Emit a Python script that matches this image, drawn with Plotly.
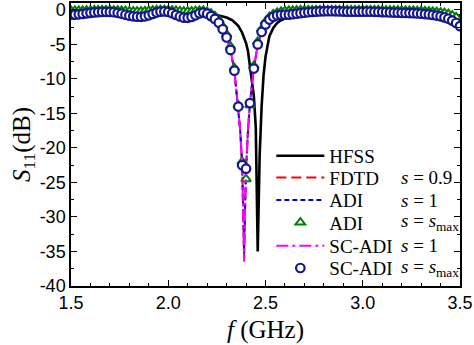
import plotly.graph_objects as go

# ---------------- data ----------------
freq_coarse = [
    1.50, 1.52, 1.54, 1.56, 1.58, 1.60, 1.62, 1.64, 1.66, 1.68,
    1.70, 1.72, 1.74, 1.76, 1.78, 1.80, 1.82, 1.84, 1.86, 1.88,
    1.90, 1.92, 1.94, 1.96, 1.98, 2.00, 2.02, 2.04, 2.06, 2.08,
    2.10, 2.12, 2.14, 2.16, 2.18, 2.20, 2.22, 2.24, 2.26, 2.28,
    2.30, 2.32, 2.34, 2.36, 2.38, 2.40, 2.42, 2.44, 2.46, 2.48,
    2.50, 2.52, 2.54, 2.56, 2.58, 2.60, 2.62, 2.64, 2.66, 2.68,
    2.70, 2.72, 2.74, 2.76, 2.78, 2.80, 2.82, 2.84, 2.86, 2.88,
    2.90, 2.92, 2.94, 2.96, 2.98, 3.00, 3.02, 3.04, 3.06, 3.08,
    3.10, 3.12, 3.14, 3.16, 3.18, 3.20, 3.22, 3.24, 3.26, 3.28,
    3.30, 3.32, 3.34, 3.36, 3.38, 3.40, 3.42, 3.44, 3.46, 3.48,
    3.50,
]

s11_sc_adi_smax = [
    -0.70, -0.68, -0.64, -0.58, -0.50, -0.43, -0.37, -0.32, -0.29, -0.28,
    -0.29, -0.34, -0.42, -0.55, -0.70, -0.83, -0.93, -0.99, -1.00, -0.93,
    -0.78, -0.58, -0.38, -0.25, -0.22, -0.30, -0.48, -0.72, -0.95, -1.12,
    -1.15, -1.02, -0.78, -0.50, -0.38, -0.55, -0.90, -1.30, -1.85, -2.80,
    -4.00, -5.80, -8.80, -14.0, -22.5, -23.0, -13.5, -8.50, -5.00, -3.20,
    -2.10, -1.40, -1.00, -0.80, -0.72, -0.70, -0.68, -0.62, -0.55, -0.47,
    -0.40, -0.34, -0.29, -0.25, -0.22, -0.20, -0.19, -0.19, -0.20, -0.22,
    -0.24, -0.26, -0.27, -0.27, -0.26, -0.25, -0.25, -0.26, -0.28, -0.30,
    -0.32, -0.34, -0.36, -0.38, -0.40, -0.42, -0.44, -0.46, -0.48, -0.51,
    -0.55, -0.60, -0.66, -0.73, -0.82, -0.93, -1.08, -1.28, -1.55, -1.90,
    -2.35,
]

s11_adi_smax = [
    -0.12, -0.12, -0.11, -0.10, -0.08, -0.06, -0.05, -0.04, -0.03, -0.03,
    -0.04, -0.06, -0.08, -0.11, -0.15, -0.18, -0.20, -0.21, -0.20, -0.17,
    -0.12, -0.07, -0.03, -0.01, -0.01, -0.03, -0.07, -0.12, -0.18, -0.22,
    -0.23, -0.20, -0.14, -0.10, -0.12, -0.25, -0.50, -0.90, -1.45, -2.35,
    -3.55, -5.30, -8.40, -13.8, -22.0, -24.5, -13.8, -8.10, -4.60, -2.80,
    -1.70, -1.00, -0.62, -0.38, -0.24, -0.16, -0.12, -0.09, -0.07, -0.05,
    -0.04, -0.03, -0.03, -0.02, -0.02, -0.02, -0.02, -0.02, -0.02, -0.03,
    -0.03, -0.03, -0.03, -0.04, -0.04, -0.04, -0.04, -0.04, -0.05, -0.05,
    -0.06, -0.06, -0.07, -0.07, -0.08, -0.09, -0.10, -0.11, -0.12, -0.13,
    -0.15, -0.17, -0.20, -0.24, -0.29, -0.36, -0.45, -0.58, -0.78, -1.05,
    -1.95,
]

freq_fine = [
    1.50, 1.55, 1.60, 1.65, 1.70, 1.75, 1.80, 1.85, 1.90, 1.95,
    2.00, 2.05, 2.10, 2.15, 2.18, 2.20, 2.22, 2.24, 2.26, 2.28,
    2.30, 2.32, 2.34, 2.36, 2.37, 2.38, 2.385, 2.39, 2.395, 2.40,
    2.41, 2.42, 2.44, 2.46, 2.48, 2.50, 2.52, 2.54, 2.56, 2.60,
    2.65, 2.70, 2.75, 2.80, 2.85, 2.90, 2.95, 3.00, 3.05, 3.10,
    3.15, 3.20, 3.25, 3.30, 3.35, 3.40, 3.45, 3.50,
]

s11_sc_adi_1 = [
    -0.70, -0.61, -0.43, -0.30, -0.29, -0.48, -0.83, -1.00, -0.78, -0.30,
    -0.30, -0.84, -1.15, -0.64, -0.38, -0.55, -0.90, -1.30, -1.85, -2.80,
    -4.00, -5.80, -8.80, -14.0, -17.5, -22.5, -28.0, -36.5, -29.0, -23.0,
    -17.5, -13.5, -8.50, -5.00, -3.20, -2.10, -1.40, -1.00, -0.80, -0.70,
    -0.58, -0.40, -0.27, -0.20, -0.19, -0.24, -0.27, -0.25, -0.27, -0.32,
    -0.37, -0.42, -0.47, -0.55, -0.70, -0.93, -1.40, -2.35,
]

s11_fdtd = [
    -0.70, -0.61, -0.43, -0.30, -0.29, -0.48, -0.83, -1.00, -0.78, -0.30,
    -0.30, -0.84, -1.15, -0.64, -0.38, -0.55, -0.90, -1.30, -1.85, -2.80,
    -4.00, -5.80, -8.80, -14.0, -17.5, -22.4, -27.8, -35.8, -28.8, -23.0,
    -17.5, -13.5, -8.50, -5.00, -3.20, -2.10, -1.40, -1.00, -0.80, -0.70,
    -0.58, -0.40, -0.27, -0.20, -0.19, -0.24, -0.27, -0.25, -0.27, -0.32,
    -0.37, -0.42, -0.47, -0.55, -0.70, -0.93, -1.40, -2.35,
]

s11_adi_1 = [
    -0.70, -0.61, -0.43, -0.30, -0.29, -0.48, -0.83, -1.00, -0.78, -0.30,
    -0.30, -0.84, -1.15, -0.64, -0.38, -0.55, -0.90, -1.30, -1.85, -2.80,
    -4.00, -5.80, -8.80, -14.0, -17.5, -22.4, -27.6, -35.2, -28.6, -23.0,
    -17.5, -13.5, -8.50, -5.00, -3.20, -2.10, -1.40, -1.00, -0.80, -0.70,
    -0.58, -0.40, -0.27, -0.20, -0.19, -0.24, -0.27, -0.25, -0.27, -0.32,
    -0.37, -0.42, -0.47, -0.55, -0.70, -0.93, -1.40, -2.35,
]

freq_hfss = [
    1.50, 1.60, 1.70, 1.80, 1.90, 2.00, 2.10, 2.20, 2.25, 2.30,
    2.33, 2.36, 2.38, 2.40, 2.41, 2.42, 2.43, 2.44, 2.45, 2.455,
    2.46, 2.465, 2.47, 2.48, 2.49, 2.50, 2.51, 2.52, 2.54, 2.56,
    2.58, 2.62, 2.68, 2.75, 2.85, 3.00, 3.20, 3.40, 3.50,
]
s11_hfss = [
    -0.55, -0.50, -0.50, -0.55, -0.55, -0.50, -0.50, -0.60, -0.75, -1.10,
    -1.50, -2.30, -3.30, -4.80, -6.00, -8.00, -10.0, -12.5, -17.0, -24.0,
    -35.0, -28.0, -21.0, -14.0, -9.50, -6.80, -5.00, -3.80, -2.60, -1.90,
    -1.50, -1.00, -0.75, -0.60, -0.55, -0.55, -0.60, -0.70, -0.80,
]

legend_names = ["HFSS", "FDTD", "ADI", "ADI", "SC-ADI", "SC-ADI"]
s_labels = ["", "<i>s</i> = 0.9", "<i>s</i> = 1", "<i>s</i> = <i>s</i><sub>max</sub>",
            "<i>s</i> = 1", "<i>s</i> = <i>s</i><sub>max</sub>"]

x_tick_vals = [1.5, 2.0, 2.5, 3.0, 3.5]
x_tick_text = ["1.5", "2.0", "2.5", "3.0", "3.5"]
y_tick_vals = [0, -5, -10, -15, -20, -25, -30, -35, -40]
y_tick_text = ["0", "-5", "-10", "-15", "-20", "-25", "-30", "-35", "-40"]

# ---------------- figure ----------------
SERIF = "Liberation Serif, Times New Roman, serif"
SANS = "Liberation Sans, Arial, sans-serif"
LEG_KEYS = ["legend", "legend2", "legend3", "legend4", "legend5", "legend6"]

fig = go.Figure()
fig.add_trace(go.Scatter(x=freq_hfss, y=s11_hfss, mode="lines", name=legend_names[0],
                         legend=LEG_KEYS[0], line=dict(color="black", width=2.6)))
fig.add_trace(go.Scatter(x=freq_fine, y=s11_fdtd, mode="lines", name=legend_names[1],
                         legend=LEG_KEYS[1],
                         line=dict(color="#ff0000", width=2, dash="10px,5px")))
fig.add_trace(go.Scatter(x=freq_fine, y=s11_adi_1, mode="lines", name=legend_names[2],
                         legend=LEG_KEYS[2],
                         line=dict(color="#0000ff", width=2, dash="5px,3px")))
fig.add_trace(go.Scatter(x=freq_coarse, y=s11_adi_smax, mode="markers", name=legend_names[3],
                         legend=LEG_KEYS[3],
                         marker=dict(symbol="triangle-up", size=8.5, color="white",
                                     line=dict(color="#008000", width=2))))
fig.add_trace(go.Scatter(x=freq_fine, y=s11_sc_adi_1, mode="lines", name=legend_names[4],
                         legend=LEG_KEYS[4],
                         line=dict(color="#ff00ff", width=2, dash="12px,4px,3px,4px")))
fig.add_trace(go.Scatter(x=freq_coarse, y=s11_sc_adi_smax, mode="markers", name=legend_names[5],
                         legend=LEG_KEYS[5],
                         marker=dict(symbol="circle", size=8.5, color="white",
                                     line=dict(color="#16168e", width=2.2))))

axis_common = dict(
    showline=True, linecolor="black", linewidth=1.5, mirror="allticks",
    ticks="inside", ticklen=6, tickwidth=1.3, tickcolor="black",
    showgrid=False, zeroline=False,
    tickfont=dict(family=SANS, size=18, color="black"),
)

fig.update_xaxes(
    range=[1.5, 3.5], tickvals=x_tick_vals, ticktext=x_tick_text,
    minor=dict(dtick=0.1, tick0=1.5, ticks="inside", ticklen=3.5, tickcolor="black", tickwidth=1.2),
    title=dict(text="<i>f</i> (GHz)", font=dict(family=SERIF, size=25, color="black"), standoff=8),
    **axis_common,
)
fig.update_yaxes(
    range=[-40, 1], tickvals=y_tick_vals, ticktext=y_tick_text,
    minor=dict(dtick=2.5, tick0=0, ticks="inside", ticklen=3.5, tickcolor="black", tickwidth=1.2),
    title=dict(text="<i>S</i><sub>11</sub>(dB)", font=dict(family=SERIF, size=25, color="black"), standoff=2),
    **axis_common,
)

PLOT_TOP, PLOT_BOTTOM = 1, 286
row_px = [155, 177, 199.5, 222, 245.5, 268]
row_y = [(PLOT_BOTTOM - p) / (PLOT_BOTTOM - PLOT_TOP) for p in row_px]

layout_legends = {}
for key, ry in zip(LEG_KEYS, row_y):
    layout_legends[key] = dict(
        x=0.515, y=ry, xanchor="left", yanchor="middle",
        bgcolor="rgba(0,0,0,0)", borderwidth=0,
        font=dict(family=SERIF, size=19, color="black"),
        itemwidth=48, tracegroupgap=0,
    )

fig.update_layout(
    width=474, height=345,
    margin=dict(l=71, r=14, t=PLOT_TOP, b=345 - PLOT_BOTTOM),
    paper_bgcolor="white", plot_bgcolor="white",
    showlegend=True,
    **layout_legends,
)

for lab, ry in zip(s_labels, row_y):
    if lab:
        fig.add_annotation(text=lab, xref="paper", yref="paper", x=0.843, y=ry,
                           xanchor="left", yanchor="middle", showarrow=False,
                           font=dict(family=SERIF, size=19, color="black"))

fig.write_html("out.html")
